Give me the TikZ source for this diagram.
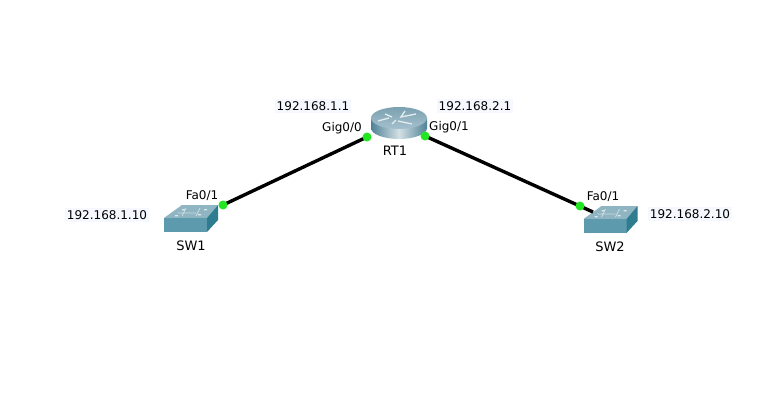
\documentclass[tikz,border=0pt]{standalone}
\usepackage{fontspec}
\setmainfont{DejaVu Sans}
\definecolor{ipbg}{HTML}{F6F8FF}
\definecolor{tealtop}{HTML}{8FB4C2}
\definecolor{tealfront}{HTML}{5E9AAE}
\definecolor{tealside}{HTML}{2E7C90}
\definecolor{rtop}{HTML}{A5C0CE}
\definecolor{rdark}{HTML}{4F8296}
\definecolor{linkgreen}{HTML}{22E622}
\tikzset{
 x=1pt,y=-1pt,
 lbl/.style={inner sep=0pt,font=\fontsize{12}{13}\selectfont,text=black},
 devlbl/.style={lbl,font=\fontsize{13}{14}\selectfont},
 ipaddr/.style={lbl,fill=ipbg,inner xsep=2pt,inner ysep=2pt},
 portdot/.style={circle,fill=linkgreen,inner sep=0pt,minimum size=9pt},
 linkline/.style={line width=3.4pt,black},
 swtop/.style={fill=tealtop},
 swfront/.style={fill=tealfront},
 swside/.style={fill=tealside}
}
\newcommand{\drawswitch}[2]{%
 \begin{scope}[shift={(#1,#2)}]
  \fill[swtop] (164,218) -- (182,205) -- (218,205) -- (207,218) -- cycle;
  \fill[swfront] (164,218) rectangle (207,232);
  \fill[swside] (207,218) -- (218,205) -- (218,220) -- (207,232) -- cycle;
  \draw[white!55!tealtop,line width=0.7pt] (178,213) -- (196,213) (186,208) -- (182,216) (200,208) -- (196,216);
  \fill[white!70!tealtop] (182,209) rectangle +(3,1.4) (204,209) rectangle +(3,1.4) (175,215) rectangle +(3,1.4) (198,214) rectangle +(3,1.4);
 \end{scope}}
\begin{document}
\begin{tikzpicture}
\useasboundingbox (0,0) rectangle (784,416);
\fill[white] (0,0) rectangle (784,416);
% devices
\drawswitch{0}{0}
\drawswitch{419.5}{1}
% router
\shade[left color=rdark,right color=rdark,middle color=white!75!rdark]
  (371,118) -- (371,128) arc[start angle=180,end angle=0,x radius=28,y radius=11] -- (427,118) -- cycle;
\shade[top color=white!25!rdark,bottom color=rtop] (399,118) ellipse[x radius=28,y radius=11];
\draw[white!70!rtop,line width=1.3pt] (385,114) -- (392,117) (378,121) -- (389,118) (405,111) -- (401,117) -- (416,114) (398,121) -- (412,124) (392,124) -- (396,120);
% link ends
\coordinate (c1) at (367,137);
\coordinate (c2) at (425,136);
\coordinate (c3) at (223,205);
\coordinate (c4) at (593,212);
\draw[linkline] (c1) -- (c3);
\draw[linkline] (c2) -- (c4);
% connection points
\node[portdot] (p1) at (c1) {};
\node[portdot] (p2) at (c2) {};
\node[portdot] (p3) at (c3) {};
\node[portdot] (p4) at (580,206) {};
% labels
\node[ipaddr] (ip1) at (313,106) {192.168.1.1};
\node[ipaddr] (ip2) at (475,106) {192.168.2.1};
\node[ipaddr] (ip3) at (107,215) {192.168.1.10};
\node[ipaddr] (ip4) at (690,214) {192.168.2.10};
\node[lbl] (g0) at (342,128) {Gig0/0};
\node[lbl] (g1) at (449,127) {Gig0/1};
\node[lbl] (f1) at (202,196) {Fa0/1};
\node[lbl] (f2) at (603,197) {Fa0/1};
\node[devlbl] (rt) at (395,151) {RT1};
\node[devlbl] (sw1) at (191,246) {SW1};
\node[devlbl] (sw2) at (610,247) {SW2};
\end{tikzpicture}
\end{document}
